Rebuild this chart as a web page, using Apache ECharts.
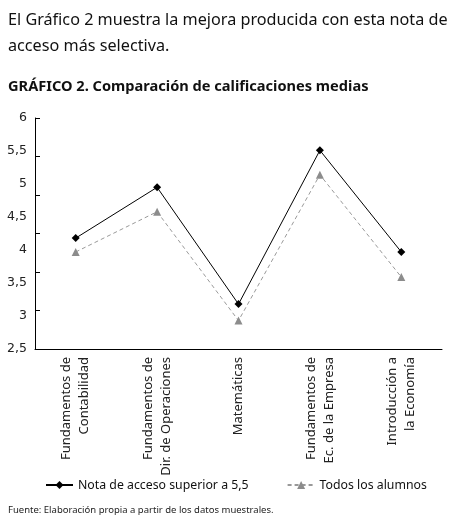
<!DOCTYPE html>
<html>
<head>
<meta charset="utf-8">
<script src="https://cdn.jsdelivr.net/npm/echarts@6/dist/echarts.min.js"></script>
<style>
  html, body { margin: 0; padding: 0; background: #fff; }
  #charts { width: 453px; height: 519px; }
</style>
</head>
<body>
<div id="charts"></div>
<script>
var categories = [
  'Fundamentos de\nContabilidad',
  'Fundamentos de\nDir. de Operaciones',
  'Matemáticas',
  'Fundamentos de\nEc. de la Empresa',
  'Introducción a\nla Economía'
];
var notaSuperior = [4.18, 4.95, 3.18, 5.51, 3.97];
var todosAlumnos = [3.97, 4.58, 2.93, 5.14, 3.59];
var yTicks = [2.5, 3, 3.5, 4, 4.5, 5, 5.5, 6];

var chartDom = document.getElementById('charts');
var myChart = echarts.init(chartDom);
var option;

var font = 'Noto Sans';

option = {
  animation: false,
  title: [
    {
      text: 'El Gráfico 2 muestra la mejora producida con esta nota de\nacceso más selectiva.',
      left: 3, top: 2,
      textStyle: { fontFamily: font, fontSize: 16.2, fontWeight: 'normal', color: '#111', lineHeight: 26 }
    },
    {
      text: 'GRÁFICO 2. Comparación de calificaciones medias',
      left: 3, top: 74,
      textStyle: { fontFamily: font, fontSize: 14.6, fontWeight: 'bold', color: '#111' }
    },
    {
      text: 'Fuente: Elaboración propia a partir de los datos muestrales.',
      left: 3, top: 500,
      textStyle: { fontFamily: font, fontSize: 9.5, fontWeight: 'normal', color: '#222' }
    }
  ],
  legend: {
    left: 40, top: 474,
    itemWidth: 27, itemHeight: 10, itemGap: 38,
    textStyle: { fontFamily: font, fontSize: 12.3, color: '#111' },
    data: ['Nota de acceso superior a 5,5', 'Todos los alumnos']
  },
  grid: { left: 35, right: 11, top: 118, bottom: 170 },
  xAxis: {
    type: 'category',
    data: categories,
    boundaryGap: true,
    axisLine: { lineStyle: { color: '#000', width: 1 } },
    axisTick: { inside: true, length: 5, lineStyle: { color: '#000' } },
    axisLabel: {
      rotate: 90, margin: 8, interval: 0,
      fontFamily: font, fontSize: 13, lineHeight: 18, color: '#222'
    }
  },
  yAxis: [
    {
      type: 'value',
      min: yTicks[0], max: yTicks[yTicks.length - 1], interval: 0.5,
      axisLine: { show: true, lineStyle: { color: '#000', width: 1 } },
      axisTick: { show: false },
      splitLine: { show: false },
      axisLabel: {
        margin: 8, fontFamily: 'DejaVu Sans', fontSize: 12.5, color: '#222',
        formatter: function (v) { return String(v).replace('.', ','); }
      }
    },
    {
      type: 'value',
      position: 'left',
      min: yTicks[0], max: yTicks[yTicks.length - 1], interval: 3.5 / 6,
      axisLine: { show: false },
      axisTick: { show: true, inside: true, length: 5, lineStyle: { color: '#000' } },
      axisLabel: { show: false },
      splitLine: { show: false }
    }
  ],
  series: [
    {
      name: 'Nota de acceso superior a 5,5',
      type: 'line',
      data: notaSuperior,
      symbol: 'diamond',
      symbolSize: 8,
      itemStyle: { color: '#000' },
      lineStyle: { color: '#000', width: 1 }
    },
    {
      name: 'Todos los alumnos',
      type: 'line',
      data: todosAlumnos,
      symbol: 'triangle',
      symbolSize: 8,
      itemStyle: { color: '#8c8c8c' },
      lineStyle: { color: '#999', width: 1, type: [4, 3] }
    }
  ]
};

option && myChart.setOption(option);
</script>
</body>
</html>
